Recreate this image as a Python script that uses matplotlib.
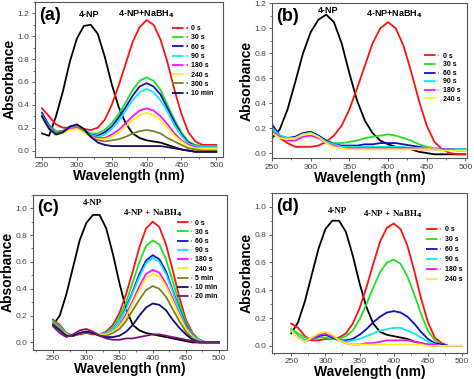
import matplotlib
matplotlib.use("Agg")
import matplotlib.pyplot as plt
from matplotlib.lines import Line2D
from matplotlib.ticker import MultipleLocator

plt.rcParams['font.family'] = ['Liberation Sans', 'DejaVu Sans']

# wavelengths (nm), sampled every 10 nm
wl = [250, 260, 270, 280, 290, 300, 310, 320, 330, 340, 350, 360, 370,
      380, 390, 400, 410, 420, 430, 440, 450, 460, 470, 480, 490, 500]

# ---- panel (a)
a_np = [0.15, 0.13, 0.30, 0.52, 0.78, 0.98, 1.09, 1.10, 1.02, 0.82, 0.58, 0.38, 0.24,
        0.15, 0.11, 0.09, 0.08, 0.07, 0.05, 0.03, 0.01, 0.00, -0.01, -0.01, -0.01, -0.01]
a_0s = [0.37, 0.30, 0.23, 0.20, 0.20, 0.21, 0.19, 0.18, 0.20, 0.27, 0.40, 0.57, 0.76,
        0.95, 1.08, 1.14, 1.10, 0.97, 0.77, 0.53, 0.32, 0.16, 0.08, 0.05, 0.05, 0.05]
a_30s = [0.30, 0.22, 0.17, 0.17, 0.20, 0.21, 0.18, 0.15, 0.15, 0.18, 0.24, 0.32, 0.42,
         0.53, 0.61, 0.64, 0.61, 0.53, 0.40, 0.27, 0.16, 0.08, 0.05, 0.04, 0.04, 0.04]
a_60s = [0.33, 0.22, 0.16, 0.17, 0.21, 0.22, 0.18, 0.14, 0.13, 0.16, 0.21, 0.29, 0.38,
         0.48, 0.56, 0.59, 0.56, 0.49, 0.37, 0.25, 0.14, 0.07, 0.04, 0.03, 0.03, 0.03]
a_90s = [0.31, 0.21, 0.16, 0.16, 0.20, 0.21, 0.18, 0.14, 0.12, 0.14, 0.19, 0.26, 0.35,
         0.44, 0.51, 0.54, 0.51, 0.44, 0.34, 0.22, 0.13, 0.06, 0.04, 0.03, 0.03, 0.03]
a_180s = [0.30, 0.20, 0.15, 0.16, 0.19, 0.20, 0.17, 0.13, 0.11, 0.11, 0.14, 0.18, 0.24,
          0.30, 0.35, 0.37, 0.35, 0.30, 0.23, 0.15, 0.09, 0.05, 0.03, 0.02, 0.02, 0.02]
a_240s = [0.28, 0.19, 0.14, 0.15, 0.18, 0.19, 0.16, 0.12, 0.10, 0.10, 0.12, 0.16, 0.21,
          0.27, 0.31, 0.33, 0.31, 0.27, 0.20, 0.13, 0.08, 0.04, 0.02, 0.02, 0.02, 0.02]
a_300s = [0.30, 0.20, 0.15, 0.17, 0.21, 0.22, 0.18, 0.12, 0.09, 0.08, 0.09, 0.10, 0.12,
          0.15, 0.17, 0.18, 0.17, 0.15, 0.11, 0.08, 0.05, 0.02, 0.01, 0.00, 0.00, 0.00]
a_10min = [0.30, 0.19, 0.14, 0.16, 0.21, 0.23, 0.19, 0.12, 0.07, 0.05, 0.04, 0.04, 0.04,
           0.04, 0.04, 0.04, 0.04, 0.04, 0.03, 0.02, 0.01, 0.00, -0.01, -0.01, -0.01, -0.01]
a_labels = ['0 s', '30 s', '60 s', '90 s', '180 s', '240 s', '300 s', '10 min']

# ---- panel (b)
b_np = [0.12, 0.19, 0.35, 0.57, 0.80, 0.97, 1.07, 1.11, 1.05, 0.88, 0.64, 0.42, 0.26,
        0.16, 0.10, 0.07, 0.05, 0.04, 0.03, 0.01, 0.00, -0.01, -0.01, -0.01, -0.01, -0.01]
b_0s = [0.20, 0.12, 0.08, 0.05, 0.05, 0.05, 0.06, 0.09, 0.14, 0.22, 0.35, 0.52, 0.70,
        0.88, 1.00, 1.05, 1.00, 0.86, 0.65, 0.42, 0.22, 0.09, 0.03, 0.00, -0.01, -0.01]
b_30s = [0.20, 0.13, 0.12, 0.13, 0.16, 0.17, 0.14, 0.10, 0.08, 0.08, 0.09, 0.10, 0.12,
         0.13, 0.14, 0.15, 0.14, 0.12, 0.10, 0.07, 0.05, 0.04, 0.03, 0.03, 0.03, 0.03]
b_60s = [0.23, 0.14, 0.12, 0.13, 0.16, 0.17, 0.14, 0.10, 0.07, 0.06, 0.06, 0.06, 0.07,
         0.07, 0.08, 0.08, 0.08, 0.07, 0.06, 0.05, 0.04, 0.03, 0.03, 0.03, 0.03, 0.03]
b_90s = [0.20, 0.14, 0.12, 0.12, 0.15, 0.16, 0.13, 0.09, 0.07, 0.05, 0.05, 0.05, 0.05,
         0.05, 0.05, 0.05, 0.05, 0.05, 0.04, 0.04, 0.04, 0.04, 0.03, 0.03, 0.03, 0.03]
b_180s = [0.17, 0.13, 0.10, 0.10, 0.13, 0.14, 0.12, 0.08, 0.06, 0.04, 0.04, 0.04, 0.04,
          0.04, 0.04, 0.04, 0.04, 0.04, 0.04, 0.03, 0.03, 0.03, 0.03, 0.03, 0.02, 0.02]
b_240s = [0.16, 0.12, 0.11, 0.12, 0.15, 0.16, 0.13, 0.08, 0.05, 0.04, 0.03, 0.03, 0.03,
          0.03, 0.03, 0.03, 0.03, 0.03, 0.03, 0.03, 0.03, 0.03, 0.02, 0.02, 0.02, 0.02]
b_labels = ['0 s', '30 s', '60 s', '90 s', '180 s', '240 s']

# ---- panel (c)
c_np = [0.13, 0.20, 0.36, 0.56, 0.76, 0.89, 0.95, 0.95, 0.85, 0.66, 0.44, 0.25, 0.13,
        0.09, 0.07, 0.06, 0.05, 0.04, 0.03, 0.02, 0.01, 0.00, 0.00, 0.00, 0.00, 0.00]
c_0s = [0.17, 0.13, 0.07, 0.05, 0.06, 0.07, 0.06, 0.06, 0.08, 0.13, 0.22, 0.36, 0.53,
        0.71, 0.85, 0.90, 0.86, 0.73, 0.54, 0.34, 0.17, 0.07, 0.02, 0.00, 0.00, 0.00]
c_30s = [0.16, 0.12, 0.07, 0.05, 0.07, 0.08, 0.07, 0.06, 0.07, 0.11, 0.19, 0.30, 0.45,
         0.60, 0.72, 0.76, 0.73, 0.62, 0.46, 0.29, 0.15, 0.06, 0.02, 0.00, 0.00, 0.00]
c_60s = [0.15, 0.11, 0.06, 0.05, 0.07, 0.08, 0.07, 0.06, 0.07, 0.10, 0.16, 0.26, 0.38,
         0.51, 0.61, 0.65, 0.62, 0.53, 0.39, 0.25, 0.13, 0.05, 0.02, 0.00, 0.00, 0.00]
c_90s = [0.15, 0.11, 0.06, 0.05, 0.07, 0.08, 0.07, 0.06, 0.07, 0.10, 0.16, 0.25, 0.37,
         0.49, 0.59, 0.63, 0.60, 0.51, 0.38, 0.24, 0.12, 0.05, 0.02, 0.00, 0.00, 0.00]
c_180s = [0.14, 0.10, 0.06, 0.05, 0.07, 0.08, 0.07, 0.06, 0.06, 0.08, 0.13, 0.21, 0.31,
          0.42, 0.51, 0.54, 0.52, 0.44, 0.33, 0.21, 0.11, 0.04, 0.01, 0.00, 0.00, 0.00]
c_240s = [0.14, 0.10, 0.06, 0.05, 0.07, 0.08, 0.07, 0.06, 0.06, 0.08, 0.12, 0.19, 0.29,
          0.39, 0.48, 0.51, 0.49, 0.42, 0.31, 0.20, 0.10, 0.04, 0.01, 0.00, 0.00, 0.00]
c_5min = [0.14, 0.10, 0.05, 0.05, 0.07, 0.08, 0.07, 0.05, 0.05, 0.07, 0.10, 0.16, 0.24,
          0.32, 0.39, 0.42, 0.40, 0.34, 0.25, 0.16, 0.08, 0.03, 0.01, 0.00, 0.00, 0.00]
c_10min = [0.13, 0.09, 0.05, 0.05, 0.07, 0.08, 0.07, 0.05, 0.04, 0.04, 0.05, 0.08, 0.13,
           0.20, 0.26, 0.29, 0.28, 0.24, 0.17, 0.11, 0.06, 0.02, 0.00, 0.00, 0.00, 0.00]
c_20min = [0.12, 0.07, 0.04, 0.06, 0.09, 0.10, 0.08, 0.05, 0.03, 0.02, 0.02, 0.03, 0.03,
           0.04, 0.05, 0.06, 0.06, 0.05, 0.04, 0.03, 0.02, 0.01, 0.00, 0.00, 0.00, 0.00]
c_labels = ['0 s', '30 s', '60 s', '90 s', '180 s', '240 s', '5 min', '10 min', '20 min']

# ---- panel (d)
d_np = [0.09, 0.17, 0.32, 0.51, 0.70, 0.84, 0.90, 0.90, 0.82, 0.65, 0.45, 0.28, 0.16,
        0.10, 0.08, 0.07, 0.06, 0.05, 0.03, 0.02, 0.01, 0.00, 0.00, 0.00, 0.00, 0.00]
d_0s = [0.16, 0.13, 0.07, 0.04, 0.04, 0.05, 0.05, 0.06, 0.09, 0.16, 0.27, 0.42, 0.59,
        0.75, 0.85, 0.88, 0.84, 0.72, 0.54, 0.34, 0.17, 0.06, 0.02, 0.00, 0.00, 0.00]
d_30s = [0.12, 0.09, 0.06, 0.05, 0.06, 0.06, 0.05, 0.05, 0.07, 0.11, 0.19, 0.30, 0.42,
         0.53, 0.60, 0.62, 0.59, 0.50, 0.37, 0.23, 0.11, 0.04, 0.01, 0.00, 0.00, 0.00]
d_60s = [0.11, 0.07, 0.04, 0.05, 0.07, 0.08, 0.06, 0.04, 0.04, 0.05, 0.08, 0.12, 0.17,
         0.21, 0.24, 0.25, 0.24, 0.21, 0.16, 0.10, 0.05, 0.02, 0.01, 0.00, 0.00, 0.00]
d_90s = [0.11, 0.07, 0.04, 0.05, 0.08, 0.09, 0.07, 0.04, 0.03, 0.04, 0.05, 0.07, 0.09,
         0.11, 0.12, 0.13, 0.13, 0.11, 0.09, 0.06, 0.03, 0.01, 0.00, 0.00, 0.00, 0.00]
d_180s = [0.11, 0.06, 0.03, 0.05, 0.08, 0.09, 0.07, 0.04, 0.02, 0.01, 0.01, 0.02, 0.02,
          0.03, 0.04, 0.04, 0.04, 0.04, 0.03, 0.02, 0.01, 0.01, 0.00, 0.00, 0.00, 0.00]
d_240s = [0.11, 0.06, 0.03, 0.06, 0.09, 0.10, 0.08, 0.04, 0.02, 0.01, 0.01, 0.01, 0.01,
          0.01, 0.01, 0.01, 0.01, 0.01, 0.01, 0.01, 0.00, 0.00, 0.00, 0.00, 0.00, 0.00]
d_labels = ['0 s', '30 s', '60 s', '90 s', '180 s', '240 s']

colors = ['#ff1010', '#22e022', '#1010c8', '#10e8f0', '#ff10ff', '#f8f020',
          '#808020', '#101070', '#801080']

fig = plt.figure(figsize=(4.74, 3.79), dpi=100)


def panel(rect, np_curve, series, labels, tag, ylim, xlim, yticks,
          np_pos, mix_pos, serif, leg_anchor, leg_space):
    ax = fig.add_axes(rect)
    ax.plot(wl, np_curve, color='black', lw=1.3)
    for s, c in zip(series, colors):
        ax.plot(wl, s, color=c, lw=1.3)
    ax.set_xlim(*xlim)
    ax.set_ylim(*ylim)
    ax.set_xticks([250, 300, 350, 400, 450, 500])
    ax.set_yticks(yticks)
    ax.xaxis.set_minor_locator(MultipleLocator(25))
    ax.yaxis.set_minor_locator(MultipleLocator(0.1))
    ax.tick_params(labelsize=6, colors='#444444', length=2.5, width=0.6, pad=1.5)
    ax.tick_params(which='minor', length=1.5, width=0.5, colors='#444444')
    ax.set_yticklabels(['%.1f' % t for t in yticks])
    for sp in ax.spines.values():
        sp.set_color('#555555')
        sp.set_linewidth(0.8)
    ax.set_xlabel('Wavelength (nm)', fontsize=10, fontweight='bold', labelpad=0)
    ax.set_ylabel('Absorbance', fontsize=10, fontweight='bold', labelpad=1)
    ax.text(0.02, 0.97, tag, transform=ax.transAxes, fontsize=13,
            fontweight='bold', va='top', ha='left')
    fam = ['Liberation Serif'] if serif else ['Liberation Sans']
    ax.text(np_pos[0], np_pos[1], '4-NP', fontsize=6.5, fontweight='bold',
            ha='center', va='center', family=fam)
    mix = r'4-NP + NaBH$_\mathbf{4}$' if serif else r'4-NP+NaBH$_\mathbf{4}$'
    ax.text(mix_pos[0], mix_pos[1], mix, fontsize=6.5, fontweight='bold',
            ha='center', va='center', family=fam)
    handles = [Line2D([], [], color=c, lw=1.3, ls='-.') for c in colors[:len(series)]]
    ax.legend(handles, labels, loc='upper left', bbox_to_anchor=leg_anchor,
              frameon=False, prop={'size': 5, 'weight': 'bold'},
              handlelength=2.2, handletextpad=0.5, labelspacing=leg_space,
              borderpad=0, borderaxespad=0)
    return ax


panel([0.074, 0.586, 0.397, 0.409], a_np,
      [a_0s, a_30s, a_60s, a_90s, a_180s, a_240s, a_300s, a_10min], a_labels,
      '(a)', (-0.055, 1.30), (240, 510), [0.0, 0.2, 0.4, 0.6, 0.8, 1.0, 1.2],
      (318, 1.19), (400, 1.19), False, (0.73, 0.85), 0.33)

panel([0.574, 0.583, 0.411, 0.408], b_np,
      [b_0s, b_30s, b_60s, b_90s, b_180s, b_240s], b_labels,
      '(b)', (-0.04, 1.2), (250, 502), [0.0, 0.2, 0.4, 0.6, 0.8, 1.0, 1.2],
      (322, 1.14), (408, 1.11), False, (0.78, 0.68), 0.22)

panel([0.07, 0.077, 0.409, 0.409], c_np,
      [c_0s, c_30s, c_60s, c_90s, c_180s, c_240s, c_5min, c_10min, c_20min], c_labels,
      '(c)', (-0.055, 1.10), (220, 512), [0.0, 0.2, 0.4, 0.6, 0.8, 1.0],
      (310, 1.04), (400, 0.96), True, (0.74, 0.84), 0.32)

panel([0.574, 0.069, 0.411, 0.422], d_np,
      [d_0s, d_30s, d_60s, d_90s, d_180s, d_240s], d_labels,
      '(d)', (-0.05, 1.10), (222, 507), [0.0, 0.2, 0.4, 0.6, 0.8, 1.0],
      (318, 0.97), (398, 0.95), True, (0.79, 0.79), 0.42)

fig.savefig('out.png', dpi=100)
